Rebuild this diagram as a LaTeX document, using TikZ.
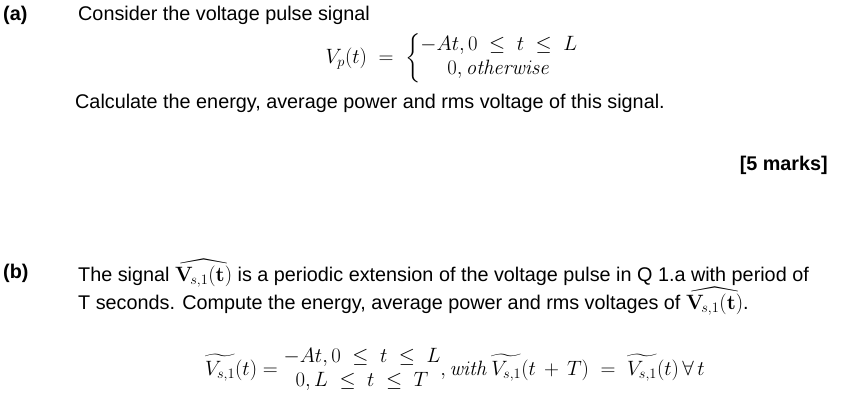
\documentclass[tikz,border=0pt]{standalone}
\usepackage{amsmath,amssymb}
\usepackage[no-math]{fontspec}
\setmainfont{Liberation Sans}
\tikzset{txt/.style={anchor=west,inner sep=0pt,font=\fontsize{19.8}{24}\selectfont},
 lab/.style={txt,font=\fontsize{19.8}{24}\selectfont\bfseries},
 eq/.style={inner sep=0pt,font=\fontsize{20.5}{24}\selectfont}}
\begin{document}
\begin{tikzpicture}[x=1pt,y=-1pt]
\useasboundingbox (0,0) rectangle (859,414);
\node[lab] (la) at (3,15) {(a)};
\node[txt] (t1) at (78,15) {Consider the voltage pulse signal};
\node[eq] (e1) at (452,58) {$V_p(t)\;=\;\left\{\begin{matrix}-At,0\;\le\;t\;\le\;L\\ 0,\mathit{otherwise}\end{matrix}\right.$};
\node[txt] (t2) at (75,103) {Calculate the energy, average power and rms voltage of this signal.};
\node[lab,anchor=east] (mk) at (828,165) {[5 marks]};
\node[lab] (lb) at (3,273) {(b)};
\node[txt] (t3) at (78,273) {The signal $\widehat{\mathbf{V}_{\!s,1}(\mathbf{t})}$ is a periodic extension of the voltage pulse in Q 1.a with period of};
\node[txt] (t4) at (78,301) {T seconds. Compute the energy, average power and rms voltages of $\widehat{\mathbf{V}_{\!s,1}(\mathbf{t})}$.};
\node[eq] (e2) at (455,370) {$\widetilde{V_{s,1}}(t)=\begin{matrix}-At,0\;\le\;t\;\le\;L\\ 0,L\;\le\;t\;\le\;T\end{matrix},\mathit{with}\,\widetilde{V_{s,1}}(t\,+\,T)\;=\;\widetilde{V_{s,1}}(t)\,\forall\,t$};
\end{tikzpicture}
\end{document}
